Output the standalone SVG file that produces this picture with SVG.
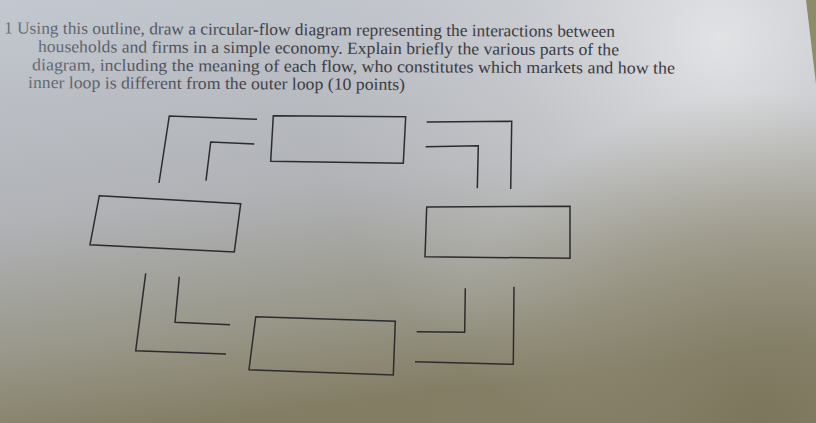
<svg xmlns="http://www.w3.org/2000/svg" width="816" height="423" viewBox="0 0 816 423">
<defs>
<linearGradient id="bg" x1="0" y1="0" x2="0.25" y2="1">
<stop offset="0" stop-color="#c3c8d0"/>
<stop offset="0.5" stop-color="#b0b2b6"/>
<stop offset="0.8" stop-color="#989688"/>
<stop offset="1" stop-color="#837d64"/>
</linearGradient>
<radialGradient id="hl" gradientUnits="userSpaceOnUse" cx="720" cy="40" r="420">
<stop offset="0" stop-color="#e6e7e9" stop-opacity="0.9"/>
<stop offset="0.5" stop-color="#d8d9dc" stop-opacity="0.4"/>
<stop offset="1" stop-color="#d0d2d6" stop-opacity="0"/>
</radialGradient>
<radialGradient id="dk" gradientUnits="userSpaceOnUse" cx="760" cy="423" r="330">
<stop offset="0" stop-color="#7a745a" stop-opacity="0.9"/>
<stop offset="0.6" stop-color="#857f66" stop-opacity="0.45"/>
<stop offset="1" stop-color="#8a8570" stop-opacity="0"/>
</radialGradient>
<linearGradient id="tx" gradientUnits="userSpaceOnUse" x1="0" y1="0" x2="300" y2="0">
<stop offset="0" stop-color="#6c717c"/>
<stop offset="1" stop-color="#3a3b40"/>
</linearGradient>
<style>
.t{font-family:"Liberation Serif","Times New Roman",serif;font-size:17px;fill:url(#tx)}
.s{fill:none;stroke:#2c2c2f;stroke-width:1.5;stroke-linejoin:miter}
</style>
</defs>
<rect width="816" height="423" fill="url(#bg)"/>
<rect width="816" height="423" fill="url(#hl)"/>
<rect width="816" height="423" fill="url(#dk)"/>
<polygon points="806,0 816,0 816,84" fill="#8e8c66"/>

<g id="question">
<text class="t" x="4" y="33.5" textLength="611" lengthAdjust="spacingAndGlyphs" transform="rotate(0.32 4 33.5)">1 Using this outline, draw a circular-flow diagram representing the interactions between</text>
<text class="t" x="38" y="52" textLength="581" lengthAdjust="spacingAndGlyphs" transform="rotate(0.32 38 52)">households and firms in a simple economy. Explain briefly the various parts of the</text>
<text class="t" x="32" y="70.3" textLength="643" lengthAdjust="spacingAndGlyphs" transform="rotate(0.3 32 70.3)">diagram, including the meaning of each flow, who constitutes which markets and how the</text>
<text class="t" x="28" y="88" textLength="377" lengthAdjust="spacingAndGlyphs" transform="rotate(0.3 28 88)">inner loop is different from the outer loop (10 points)</text>
</g>

<g id="box-top"><polygon class="s" points="273.3,115.7 405.7,116.7 403.3,163.3 270.7,161.3"/></g>
<g id="box-left"><polygon class="s" points="99.3,195.7 240.7,203.7 234.3,252 90,244.7"/></g>
<g id="box-right"><polygon class="s" points="426.7,207 570,206.3 570,258.3 425,256.7"/></g>
<g id="box-bottom"><polygon class="s" points="255.7,316.7 395.3,321.3 393.3,375 249,369.7"/></g>

<g id="connectors">
<polyline class="s" points="159,183 169.3,116 257,119.3"/>
<polyline class="s" points="206,180.7 210.7,142 254.3,144"/>
<polyline class="s" points="426.7,122 511.7,121.3 510.7,189"/>
<polyline class="s" points="425.7,146.7 478.3,145.7 477.3,188.3"/>
<polyline class="s" points="145.7,273.3 135.7,350.7 226,354"/>
<polyline class="s" points="179.3,276.7 175,322.3 230,324.7"/>
<polyline class="s" points="416.7,331.7 464.7,332.3 465.3,288.3"/>
<polyline class="s" points="415,361.7 513.3,364.3 514,286.7"/>
</g>
</svg>
